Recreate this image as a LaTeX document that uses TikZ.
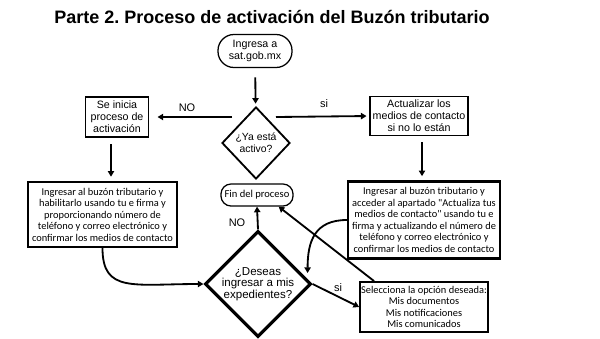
\documentclass[tikz,border=0pt]{standalone}
\usepackage{fontspec}
\setmainfont{Liberation Sans}
\newfontfamily\boxfont{Carlito}
\usetikzlibrary{arrows.meta,shapes.geometric,calc}
\frenchspacing

\begin{document}
\begin{tikzpicture}[x=0.025cm, y=-0.025cm,
  arr/.style={-{Triangle[length=4pt,width=4.5pt]}, line width=1.3pt},
  topbox/.style={draw, line width=0.9pt, align=center, inner sep=0pt, font=\fontsize{7.6}{8.6}\selectfont},
  lowbox/.style={draw, line width=1.6pt, align=center, inner sep=0pt, font=\boxfont\fontsize{7.4}{8.2}\selectfont},
  decision/.style={diamond, draw, align=center, inner sep=0pt},
  lbl/.style={font=\fontsize{7.8}{8.6}\selectfont}]

\useasboundingbox (0,0) rectangle (600,338);

% Title
\node[font=\bfseries\fontsize{12.8}{14}\selectfont] (title) at (272,17) {Parte 2. Proceso de activación del Buzón tributario};

% Upper part
\node[topbox, minimum width=1.85cm, minimum height=0.825cm, rounded corners=0.4cm] (start) at (255,51) {Ingresa a\\sat.gob.mx};
\node[decision, line width=1.3pt, minimum width=1.7cm, minimum height=1.8cm, font=\fontsize{7.4}{8.3}\selectfont] (active) at (256,143) {¿Ya está\\activo?};
\node[topbox, minimum width=1.575cm, minimum height=1cm] (begin) at (117,117) {Se inicia\\proceso de\\activación};
\node[topbox, minimum width=2.45cm, minimum height=0.975cm] (update) at (419,116) {Actualizar los\\medios de contacto\\si no lo están};

% Lower part
\node[lowbox, minimum width=3.725cm, minimum height=1.625cm] (enable) at (102.5,214.5) {Ingresar al buzón tributario y\\habilitarlo usando tu e firma y\\proporcionando número de\\teléfono y correo electrónico y\\confirmar los medios de contacto};
\node[lowbox, minimum width=3.8cm, minimum height=1.925cm] (access) at (424,220) {Ingresar al buzón tributario y\\acceder al apartado "Actualiza tus\\medios de contacto" usando tu e\\firma y actualizando el número de\\teléfono y correo electrónico y\\confirmar los medios de contacto};
\node[draw, line width=0.9pt, rounded corners=0.25cm, minimum width=1.8cm, minimum height=0.55cm, inner sep=0pt, font=\boxfont\fontsize{7.5}{8.2}\selectfont] (finish) at (257,195) {Fin del proceso};
\node[decision, line width=2.2pt, minimum width=2.25cm, minimum height=2.55cm, font=\fontsize{8.2}{8.3}\selectfont] (files) at (258,284) {¿Deseas\\ingresar a mis\\expedientes?};
\node[lowbox, line width=1.2pt, minimum width=3.2cm, minimum height=1.25cm] (choose) at (424,307) {Selecciona la opción deseada:\\Mis documentos\\Mis notificaciones\\Mis comunicados};

% Branch labels
\node[lbl] (noA) at (187,108) {NO};
\node[lbl] (siA) at (324,104) {si};
\node[lbl] (noB) at (237,223) {NO};
\node[lbl] (siB) at (338,288) {si};

% Loose arrow ends
\coordinate (noStart) at (232,117);
\coordinate (siStart) at (276,117);
\coordinate (beginDown) at (111,144);
\coordinate (updateDown) at (422,142);

% Connectors
\draw[arr, shorten <=5\pgflinewidth, shorten >=2pt] (start) -- (active);
\draw[arr, shorten >=6pt] (noStart) -- (begin.east);
\draw[arr, shorten >=2pt] (siStart) -- (update.west);
\draw[arr, shorten >=3pt] (beginDown) -- (beginDown |- enable.north);
\draw[arr, shorten >=3pt] (updateDown) -- (updateDown |- access.north);
\draw[arr] (files.north) -- (finish.south);
\draw[arr] (files.east) -- (choose.west);
\draw[arr] ($(choose.north west)+(15,0)$) -- ($(finish.south east)+(-15,0)$);
\draw[arr] (access.west) .. controls +(-32,0) and +(0,-32) .. ($(files.east)+(-5,-11)$);
\draw[arr] (enable.south) .. controls +(0,45) and +(-70,0) .. (files.west);

\end{tikzpicture}
\end{document}
